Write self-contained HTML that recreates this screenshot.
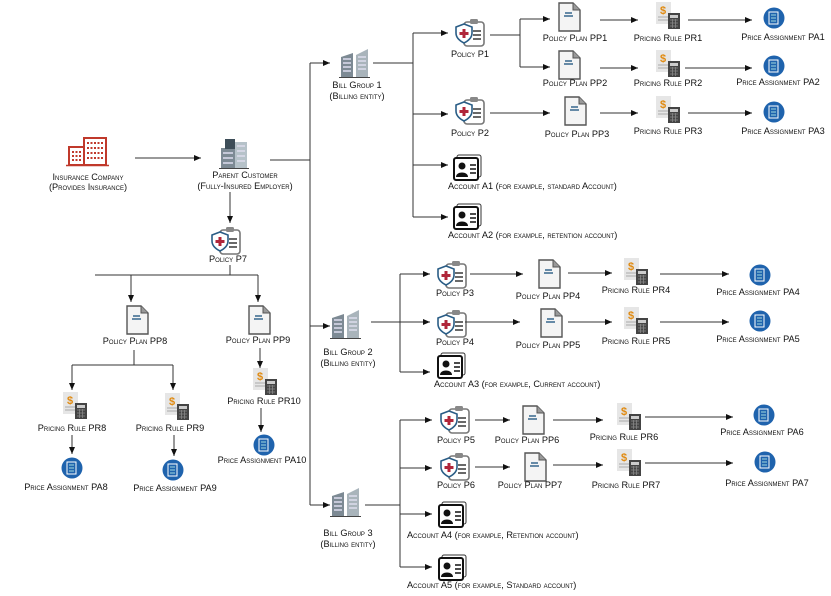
<!DOCTYPE html>
<html><head><meta charset="utf-8"><style>
html,body{margin:0;padding:0;background:#fff;}
svg{display:block;}
text{font-family:"Liberation Sans",sans-serif;font-size:9.2px;font-variant:small-caps;fill:#111;text-anchor:middle;}
.s{text-anchor:start;}
.ln{stroke:#333;stroke-width:1;fill:none;}
</style></head><body>
<svg width="831" height="596" viewBox="0 0 831 596" xmlns="http://www.w3.org/2000/svg">
<defs>
<marker id="a" markerWidth="8" markerHeight="8" refX="7" refY="3" orient="auto" markerUnits="userSpaceOnUse"><path d="M0,0 L7,3 L0,6 Z" fill="#111"/></marker>
<symbol id="pol" viewBox="-15 -15 30 30" overflow="visible">
<rect x="-6" y="-11" width="20" height="24" rx="3" fill="#fff" stroke="#777" stroke-width="1.6"/>
<rect x="0" y="-14" width="8" height="5" rx="1.5" fill="#888"/>
<line x1="3" y1="-2" x2="11" y2="-2" stroke="#444" stroke-width="1.6"/>
<line x1="3" y1="2" x2="11" y2="2" stroke="#444" stroke-width="1.6"/>
<line x1="3" y1="6" x2="11" y2="6" stroke="#444" stroke-width="1.6"/>
<path d="M-14,-6 L-6,-9 L2,-6 L2,0 C2,5 -2,8 -6,10 C-10,8 -14,5 -14,0 Z" fill="#fff" stroke="#2a5d86" stroke-width="1.6"/>
<path d="M-7.5,-4 h3 v3 h3 v3 h-3 v3 h-3 v-3 h-3 v-3 h3z" fill="#b0263a"/>
</symbol>
<symbol id="plan" viewBox="-15 -15 30 30" overflow="visible">
<path d="M-10,-14 L4,-14 L11,-7 L11,14 L-10,14 Z" fill="#f4f4f4" stroke="#555" stroke-width="1.4"/>
<path d="M4,-14 L4,-7 L11,-7" fill="#999" stroke="#555" stroke-width="1"/>
<line x1="-4" y1="-4" x2="3" y2="-4" stroke="#2a5d86" stroke-width="1.4"/>
<line x1="-5" y1="-1" x2="4" y2="-1" stroke="#2a5d86" stroke-width="1.4"/>
</symbol>
<symbol id="pr" viewBox="-15 -15 30 30" overflow="visible">
<rect x="-12" y="-14" width="15" height="22" fill="#e6e6e6"/>
<text x="-5" y="-2" style="font-size:11px;font-variant:normal;fill:#e08a10;font-weight:bold;">$</text>
<line x1="-10" y1="1" x2="0" y2="1" stroke="#aaa"/><line x1="-10" y1="4" x2="0" y2="4" stroke="#aaa"/>
<rect x="0" y="-3" width="12" height="16" fill="#444"/>
<rect x="2" y="-1" width="8" height="3" fill="#ccc"/>
<path d="M2,4h8M2,7h8M2,10h8M4.5,3v9M7.5,3v9" stroke="#888" stroke-width="0.8"/>
</symbol>
<symbol id="pa" viewBox="-15 -15 30 30" overflow="visible">
<circle r="10.5" fill="#1f63ad"/>
<rect x="-5" y="-6" width="9" height="12" fill="none" stroke="#fff" stroke-width="1"/>
<path d="M-3,-3h5M-3,0h5M-3,3h5" stroke="#cfe" stroke-width="0.8"/>
</symbol>
<symbol id="acc" viewBox="-15 -15 30 30" overflow="visible">
<rect x="-10" y="-13" width="24" height="22" rx="2" fill="#fff" stroke="#333" stroke-width="1"/>
<rect x="-13" y="-10" width="24" height="22" rx="2" fill="#fff" stroke="#111" stroke-width="2"/>
<circle cx="-5" cy="-2" r="3.5" fill="#111"/>
<path d="M-11,9 C-11,3 1,3 1,9 Z" fill="#111"/>
<path d="M3,-3h6M3,1h6M3,5h6" stroke="#111" stroke-width="1.6"/>
</symbol>
<symbol id="bld" viewBox="-15 -15 30 30" overflow="visible">
<path d="M-14,-6 L-2,-10 L-2,14 L-14,14Z" fill="#7d8a94"/>
<path d="M1,-8 L13,-14 L13,14 L1,14Z" fill="#a9b4bb"/>
<path d="M-12,-4h8M-12,0h8M-12,4h8M-12,8h8M3,-6h8M3,-2h8M3,2h8M3,6h8" stroke="#dde" stroke-width="1.5"/>
<line x1="-16" y1="14.5" x2="15" y2="14.5" stroke="#444" stroke-width="1"/>
</symbol>
</defs>

<g transform="translate(87,152)">
<rect x="-18" y="-5" width="16" height="18" fill="#fff" stroke="#c0392b" stroke-width="2"/>
<rect x="-3" y="-14" width="22" height="27" fill="#fff" stroke="#c0392b" stroke-width="2"/>
<path d="M-15,0h10M-15,4h10M-15,8h10M0,-9h16M0,-4h16M0,1h16M0,6h16" stroke="#c0392b" stroke-width="2" stroke-dasharray="2,1.5"/>
<line x1="-21" y1="13.5" x2="22" y2="13.5" stroke="#c0392b" stroke-width="1.5"/>
</g>
<text x="88" y="180">Insurance Company</text>
<text x="88" y="190">(Provides Insurance)</text>
<path class="ln" d="M135,158 H201" marker-end="url(#a)"/>
<g transform="translate(235,154)">
<rect x="-14" y="-6" width="14" height="20" fill="#7d8a94"/>
<rect x="-10" y="-15" width="10" height="10" fill="#3d4d58"/>
<rect x="0" y="-12" width="12" height="26" fill="#b6c2c9"/>
<path d="M-12,-1h10M-12,4h10M-12,9h10M2,-8h8M2,-3h8M2,2h8M2,7h8" stroke="#dde" stroke-width="1.5"/>
<line x1="-16" y1="14.5" x2="14" y2="14.5" stroke="#444"/>
</g>
<text x="245" y="178">Parent Customer</text>
<text x="245" y="189">(Fully-Insured Employer)</text>
<path class="ln" d="M270,160 H310 M310,63 V505"/>
<path class="ln" d="M310,63 H330" marker-end="url(#a)"/>
<path class="ln" d="M310,326 H330" marker-end="url(#a)"/>
<path class="ln" d="M310,505 H330" marker-end="url(#a)"/>

<use href="#bld" x="340" y="48" width="30" height="30"/>
<text x="357" y="88">Bill Group 1</text>
<text x="357" y="99">(Billing entity)</text>
<path class="ln" d="M373,63 H413 M413,33 V217"/>
<path class="ln" d="M413,33 H448" marker-end="url(#a)"/>
<path class="ln" d="M413,114 H448" marker-end="url(#a)"/>
<path class="ln" d="M413,165 H448" marker-end="url(#a)"/>
<path class="ln" d="M413,217 H448" marker-end="url(#a)"/>
<use href="#pol" x="455" y="18" width="30" height="30"/><text x="470" y="57">Policy P1</text>
<path class="ln" d="M490,35 H520 M520,19 V67"/>
<path class="ln" d="M520,19 H550" marker-end="url(#a)"/>
<path class="ln" d="M520,67 H550" marker-end="url(#a)"/>
<use href="#plan" x="554" y="2" width="30" height="30"/><text x="575" y="41">Policy Plan PP1</text>
<use href="#plan" x="554" y="50" width="30" height="30"/><text x="575" y="86">Policy Plan PP2</text>
<path class="ln" d="M600,20 H638" marker-end="url(#a)"/>
<path class="ln" d="M600,68 H638" marker-end="url(#a)"/>
<use href="#pr" x="653" y="1" width="30" height="30"/><text x="668" y="41">Pricing Rule PR1</text>
<use href="#pr" x="653" y="49" width="30" height="30"/><text x="668" y="86">Pricing Rule PR2</text>
<path class="ln" d="M688,20 H752" marker-end="url(#a)"/>
<path class="ln" d="M685,68 H752" marker-end="url(#a)"/>
<use href="#pa" x="759" y="3" width="30" height="30"/><text x="783" y="40">Price Assignment PA1</text>
<use href="#pa" x="759" y="51" width="30" height="30"/><text x="778" y="85">Price Assignment PA2</text>
<use href="#pol" x="455" y="96" width="30" height="30"/><text x="470" y="136">Policy P2</text>
<path class="ln" d="M490,113 H550" marker-end="url(#a)"/>
<use href="#plan" x="560" y="96" width="30" height="30"/><text x="577" y="137">Policy Plan PP3</text>
<path class="ln" d="M600,113 H638" marker-end="url(#a)"/>
<use href="#pr" x="653" y="95" width="30" height="30"/><text x="668" y="134">Pricing Rule PR3</text>
<path class="ln" d="M688,113 H752" marker-end="url(#a)"/>
<use href="#pa" x="759" y="97" width="30" height="30"/><text x="783" y="134">Price Assignment PA3</text>
<use href="#acc" x="452" y="153" width="30" height="30"/><text class="s" x="448" y="189">Account A1 (for example, standard Account)</text>
<use href="#acc" x="452" y="202" width="30" height="30"/><text class="s" x="448" y="238">Account A2 (for example, retention account)</text>

<path class="ln" d="M230,192 V223" marker-end="url(#a)"/>
<use href="#pol" x="211" y="226" width="30" height="30"/><text x="228" y="262">Policy P7</text>
<path class="ln" d="M230,265 V275 M95,275 H258"/>
<path class="ln" d="M131,275 V302" marker-end="url(#a)"/>
<path class="ln" d="M258,275 V302" marker-end="url(#a)"/>
<use href="#plan" x="122" y="305" width="30" height="30"/><text x="135" y="344">Policy Plan PP8</text>
<use href="#plan" x="244" y="305" width="30" height="30"/><text x="258" y="343">Policy Plan PP9</text>
<path class="ln" d="M134,350 V365 M72,365 H173"/>
<path class="ln" d="M72,365 V390" marker-end="url(#a)"/>
<path class="ln" d="M173,365 V390" marker-end="url(#a)"/>
<use href="#pr" x="60" y="391" width="30" height="30"/><text x="72" y="431">Pricing Rule PR8</text>
<use href="#pr" x="162" y="392" width="30" height="30"/><text x="170" y="431">Pricing Rule PR9</text>
<path class="ln" d="M72,435 V454" marker-end="url(#a)"/>
<path class="ln" d="M174,435 V456" marker-end="url(#a)"/>
<use href="#pa" x="57" y="453" width="30" height="30"/><text x="66" y="490">Price Assignment PA8</text>
<use href="#pa" x="158" y="455" width="30" height="30"/><text x="175" y="491">Price Assignment PA9</text>
<path class="ln" d="M260,348 V368" marker-end="url(#a)"/>
<use href="#pr" x="250" y="367" width="30" height="30"/><text x="264" y="404">Pricing Rule PR10</text>
<path class="ln" d="M261,408 V432" marker-end="url(#a)"/>
<use href="#pa" x="249" y="430" width="30" height="30"/><text x="262" y="463">Price Assignment PA10</text>

<use href="#bld" x="331" y="309" width="30" height="30"/>
<text x="348" y="355">Bill Group 2</text>
<text x="348" y="366">(Billing entity)</text>
<path class="ln" d="M371,322 H400 M400,274 V372"/>
<path class="ln" d="M400,274 H430" marker-end="url(#a)"/>
<path class="ln" d="M400,322 H430" marker-end="url(#a)"/>
<path class="ln" d="M400,372 H430" marker-end="url(#a)"/>
<use href="#pol" x="437" y="260" width="30" height="30"/><text x="455" y="296">Policy P3</text>
<use href="#pol" x="437" y="309" width="30" height="30"/><text x="455" y="345">Policy P4</text>
<path class="ln" d="M470,274 H523" marker-end="url(#a)"/>
<path class="ln" d="M465,322 H520" marker-end="url(#a)"/>
<use href="#plan" x="534" y="259" width="30" height="30"/><text x="548" y="299">Policy Plan PP4</text>
<use href="#plan" x="536" y="308" width="30" height="30"/><text x="548" y="348">Policy Plan PP5</text>
<path class="ln" d="M568,273 H612" marker-end="url(#a)"/>
<path class="ln" d="M568,322 H612" marker-end="url(#a)"/>
<use href="#pr" x="621" y="257" width="30" height="30"/><text x="636" y="293">Pricing Rule PR4</text>
<use href="#pr" x="621" y="306" width="30" height="30"/><text x="636" y="344">Pricing Rule PR5</text>
<path class="ln" d="M660,274 H729" marker-end="url(#a)"/>
<path class="ln" d="M660,322 H729" marker-end="url(#a)"/>
<use href="#pa" x="745" y="260" width="30" height="30"/><text x="758" y="295">Price Assignment PA4</text>
<use href="#pa" x="745" y="306" width="30" height="30"/><text x="758" y="342">Price Assignment PA5</text>
<use href="#acc" x="436" y="351" width="30" height="30"/><text class="s" x="434" y="387">Account A3 (for example, Current account)</text>

<use href="#bld" x="331" y="487" width="30" height="30"/>
<text x="348" y="536">Bill Group 3</text>
<text x="348" y="547">(Billing entity)</text>
<path class="ln" d="M365,505 H400 M400,420 V567"/>
<path class="ln" d="M400,420 H432" marker-end="url(#a)"/>
<path class="ln" d="M400,468 H432" marker-end="url(#a)"/>
<path class="ln" d="M400,514 H432" marker-end="url(#a)"/>
<path class="ln" d="M400,567 H432" marker-end="url(#a)"/>
<use href="#pol" x="440" y="405" width="30" height="30"/><text x="456" y="443">Policy P5</text>
<use href="#pol" x="440" y="452" width="30" height="30"/><text x="456" y="488">Policy P6</text>
<path class="ln" d="M475,420 H510" marker-end="url(#a)"/>
<path class="ln" d="M475,467 H510" marker-end="url(#a)"/>
<use href="#plan" x="518" y="405" width="30" height="30"/><text x="527" y="443">Policy Plan PP6</text>
<use href="#plan" x="520" y="452" width="30" height="30"/><text x="530" y="488">Policy Plan PP7</text>
<path class="ln" d="M553,420 H603" marker-end="url(#a)"/>
<path class="ln" d="M553,465 H603" marker-end="url(#a)"/>
<use href="#pr" x="614" y="402" width="30" height="30"/><text x="624" y="440">Pricing Rule PR6</text>
<use href="#pr" x="614" y="448" width="30" height="30"/><text x="626" y="488">Pricing Rule PR7</text>
<path class="ln" d="M645,417 H733" marker-end="url(#a)"/>
<path class="ln" d="M645,463 H733" marker-end="url(#a)"/>
<use href="#pa" x="749" y="400" width="30" height="30"/><text x="762" y="435">Price Assignment PA6</text>
<use href="#pa" x="750" y="447" width="30" height="30"/><text x="767" y="486">Price Assignment PA7</text>
<use href="#acc" x="437" y="500" width="30" height="30"/><text class="s" x="407" y="538">Account A4 (for example, Retention account)</text>
<use href="#acc" x="437" y="553" width="30" height="30"/><text class="s" x="407" y="588">Account A5 (for example, Standard account)</text>
</svg>
</body></html>
